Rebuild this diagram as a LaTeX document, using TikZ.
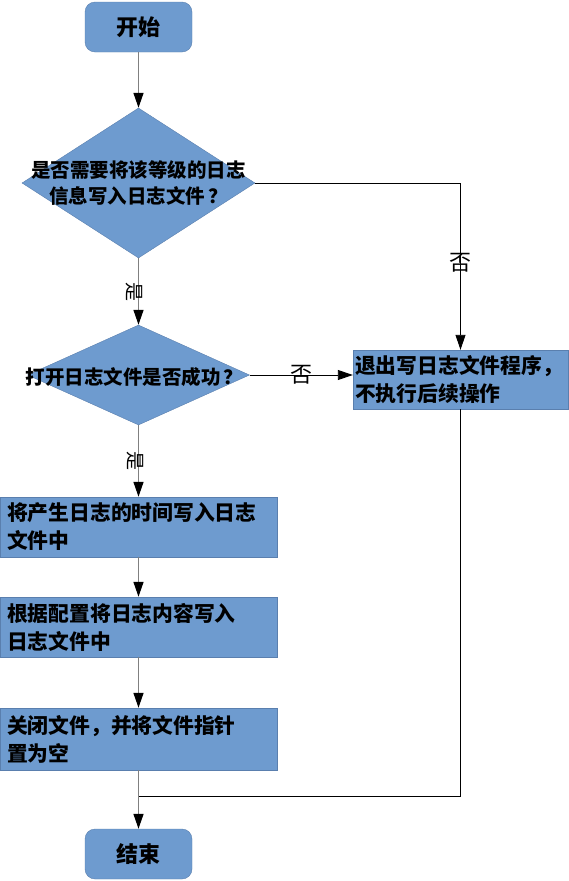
\documentclass[tikz,border=0pt]{standalone}
\usepackage{fontspec}
\setmainfont{Noto Sans CJK SC}
\usetikzlibrary{shapes}
\usetikzlibrary{arrows.meta}
\usetikzlibrary{calc}

\definecolor{boxblue}{HTML}{6E9BCF}
\definecolor{boxedge}{HTML}{5A7FAE}
\definecolor{flowgrey}{HTML}{808080}

\begin{document}
\begin{tikzpicture}[x=1pt, y=-1pt,
  terminal/.style={draw=boxedge, fill=boxblue, rounded corners=10pt,
    minimum width=107pt, minimum height=50pt, font=\fontsize{22}{24}\selectfont\bfseries},
  decision/.style={draw=boxedge, fill=boxblue, diamond, inner sep=0pt},
  process/.style={draw=boxedge, fill=boxblue, rectangle, inner sep=0pt,
    minimum width=277pt, minimum height=60pt, text width=263pt, align=left,
    font=\fontsize{20.8}{28}\selectfont\bfseries},
  flow/.style={draw=flowgrey, line width=1.4pt, -{Triangle[length=15pt, width=10pt, color=black]}},
  branch/.style={draw=black, line width=0.9pt, -{Triangle[length=15pt, width=10pt]}},
  yes/.style={rotate=-90, font=\fontsize{19}{19}\selectfont},
  no/.style={font=\fontsize{22}{22}\selectfont}]

  \useasboundingbox (0,0) rectangle (568,881);

%%%%%%%%%%%% main column
  \node[terminal] (start) at (138.5, 27) {开始};
  \node[decision, minimum width=233pt, minimum height=150pt,
    label={[align=center, font=\fontsize{19.5}{26}\selectfont\bfseries]center:是否需要将该等级的日志\\信息写入日志文件\,？}]
    (q1) at (138.5, 183) {};
  \node[decision, minimum width=222pt, minimum height=100pt,
    label={[font=\fontsize{19.5}{26}\selectfont\bfseries, xshift=-4pt, yshift=-2pt]center:打开日志文件是否成功\,？}]
    (q2) at (138.5, 375) {};
  \node[process] (b1) at (138.5, 527) {将产生日志的时间写入日志\\文件中};
  \node[process] (b2) at (138.5, 627) {根据配置将日志内容写入\\日志文件中};
  \node[process, minimum height=62pt] (b3) at (138.5, 739) {关闭文件，并将文件指针\\置为空};
  \node[terminal] (stop) at (138.5, 854) {结束};

%%%%%%%%%%%% exit branch
  \node[process, minimum width=215pt, minimum height=59pt, text width=211pt]
    (exit) at (460.5, 379.5) {退出写日志文件程序，\\不执行后续操作};

  \coordinate (merge) at (b3.south |- 0,796);

  \draw[flow] (start) -- (q1);
  \draw[flow] (q1) -- node[xshift=-4pt, yes] {是} (q2);
  \draw[flow] (q2) -- node[xshift=-3pt, yes] {是} (b1);
  \draw[flow] (b1) -- (b2);
  \draw[flow] (b2) -- (b3);
  \draw[flow] (b3) -- (stop);

  \draw[branch] (q1.east) -| node[no, pos=0.74] {否} (exit.north);
  \draw[branch] (q2.east) -- node[no] {否} (q2.east -| exit.west);
  \draw[branch, -] (exit.south) |- (merge);
\end{tikzpicture}
\end{document}
